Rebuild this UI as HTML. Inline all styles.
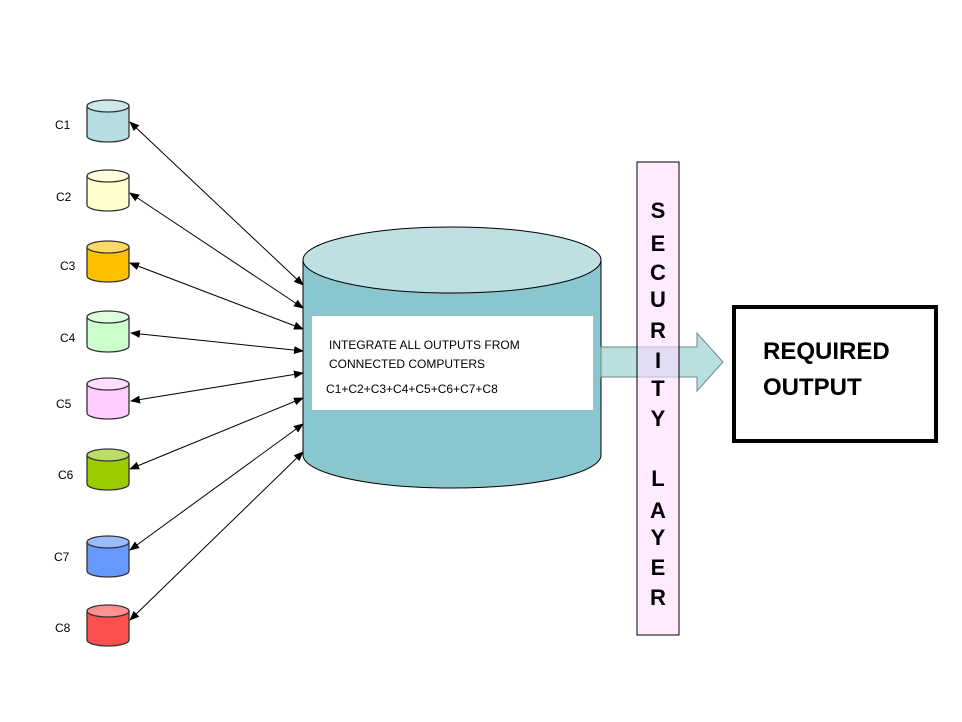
<!DOCTYPE html>
<html><head><meta charset="utf-8"><style>html,body{margin:0;padding:0;background:#fff}svg{display:block}</style></head>
<body>
<svg width="962" height="722" viewBox="0 0 962 722" xmlns="http://www.w3.org/2000/svg" font-family="'Liberation Sans', sans-serif">
<defs>
<marker id="a" markerWidth="10" markerHeight="8" refX="9" refY="4" orient="auto-start-reverse" markerUnits="userSpaceOnUse">
<path d="M0,0 L10,4 L0,8 z" fill="#000"/></marker>
</defs>
<g stroke="#000" stroke-width="1" fill="none" marker-start="url(#a)" marker-end="url(#a)">
<line x1="130" y1="122" x2="303" y2="285"/>
<line x1="130" y1="193" x2="303" y2="308"/>
<line x1="130" y1="263" x2="303" y2="329"/>
<line x1="131" y1="333" x2="303" y2="351"/>
<line x1="131" y1="401" x2="303" y2="373"/>
<line x1="130" y1="469" x2="303" y2="398"/>
<line x1="130" y1="550" x2="303" y2="424"/>
<line x1="130" y1="620" x2="303" y2="452"/>
</g>
<g stroke="#333" stroke-width="1.3">
<path d="M87,106 v30 a21,6 0 0 0 42,0 v-30" fill="#b7dde2"/><ellipse cx="108" cy="106" rx="21" ry="6" fill="#cbe8ec"/>
<path d="M87,176 v29 a21,6 0 0 0 42,0 v-29" fill="#ffffcc"/><ellipse cx="108" cy="176" rx="21" ry="6" fill="#ffffdd"/>
<path d="M87,247 v29 a21,6 0 0 0 42,0 v-29" fill="#ffc000"/><ellipse cx="108" cy="247" rx="21" ry="6" fill="#ffd966"/>
<path d="M87,317 v29 a21,6 0 0 0 42,0 v-29" fill="#ccffcc"/><ellipse cx="108" cy="317" rx="21" ry="6" fill="#ddffdd"/>
<path d="M87,384 v29 a21,6 0 0 0 42,0 v-29" fill="#ffccff"/><ellipse cx="108" cy="384" rx="21" ry="6" fill="#ffddff"/>
<path d="M87,455 v29 a21,6 0 0 0 42,0 v-29" fill="#99cc00"/><ellipse cx="108" cy="455" rx="21" ry="6" fill="#bbdd66"/>
<path d="M87,542 v29 a21,6 0 0 0 42,0 v-29" fill="#6699ff"/><ellipse cx="108" cy="542" rx="21" ry="6" fill="#99bbff"/>
<path d="M87,611 v29 a21,6 0 0 0 42,0 v-29" fill="#ff5050"/><ellipse cx="108" cy="611" rx="21" ry="6" fill="#ff9090"/>
</g>
<g font-size="12" fill="#000">
<text x="55" y="129">C1</text><text x="56" y="201">C2</text><text x="60" y="270">C3</text><text x="60" y="342">C4</text>
<text x="56" y="408">C5</text><text x="58" y="479">C6</text><text x="54" y="561">C7</text><text x="55" y="632">C8</text>
</g>
<path d="M303,260 v195 a149,33 0 0 0 298,0 v-195" fill="#8ac6cd" stroke="#000" stroke-width="1"/>
<ellipse cx="452" cy="260" rx="149" ry="33" fill="#bfe0e3" stroke="#000" stroke-width="1"/>
<rect x="312" y="316" width="281" height="94" fill="#fff"/>
<g font-size="12" fill="#000">
<text x="329" y="349">INTEGRATE ALL OUTPUTS FROM</text>
<text x="329" y="368">CONNECTED COMPUTERS</text>
<text x="326" y="393">C1+C2+C3+C4+C5+C6+C7+C8</text>
</g>
<path d="M601,347 H697 V333 L723,362 L697,391 V377 H601 Z" fill="#b9dfe0" stroke="#6a8a8c" stroke-width="1"/>
<rect x="637" y="162" width="42" height="473" fill="rgba(255,220,255,0.6)" stroke="#000" stroke-width="1"/>
<g font-size="22" font-weight="bold" fill="#000" text-anchor="middle">
<text x="658" y="218">S</text><text x="658" y="251">E</text><text x="658" y="280">C</text><text x="658" y="307">U</text>
<text x="658" y="338">R</text><text x="658" y="368">I</text><text x="658" y="396">T</text><text x="658" y="426">Y</text>
<text x="658" y="486">L</text><text x="658" y="518">A</text><text x="658" y="545">Y</text><text x="658" y="575">E</text><text x="658" y="605">R</text>
</g>
<rect x="734" y="307" width="202" height="134" fill="#fff" stroke="#000" stroke-width="4"/>
<g font-size="24" font-weight="bold" fill="#000">
<text x="763" y="359">REQUIRED</text><text x="763" y="395">OUTPUT</text>
</g>
</svg>
</body></html>
